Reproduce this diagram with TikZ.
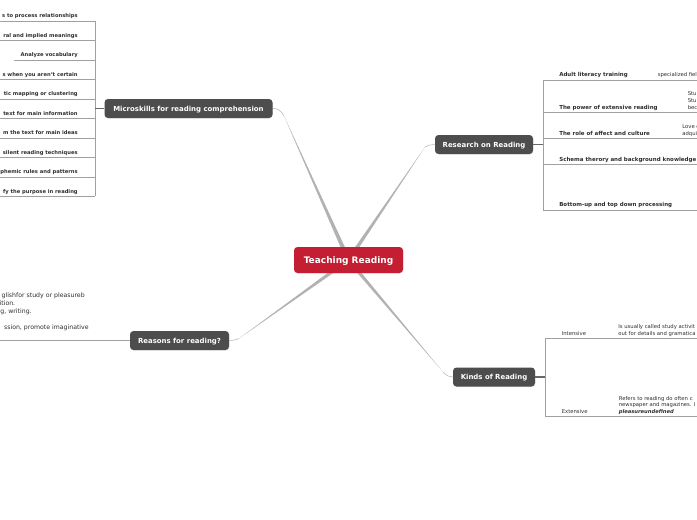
\documentclass[tikz,border=0pt]{standalone}
\usepackage{fontspec}
\setmainfont{DejaVu Sans}
\usepackage{xcolor}
\usetikzlibrary{positioning,calc,backgrounds,shadows}

\definecolor{rootred}{HTML}{C41E33}
\definecolor{boxgray}{HTML}{4D4D4D}
\definecolor{rulegray}{HTML}{A0A0A0}
\definecolor{inkgray}{HTML}{2E2E2E}

\begin{document}
\begin{tikzpicture}[x=1pt,y=-1pt,semithick]

\tikzstyle{every topic}=[rectangle, rounded corners=3.5pt, fill=boxgray, text=white, draw=none,
minimum height=19pt, inner sep=0pt, text height=5.7pt, text depth=0pt,
font=\bfseries\fontsize{6.95}{8}\selectfont,
drop shadow={opacity=0.18,shadow xshift=0.4pt,shadow yshift=-0.6pt}]
\tikzstyle{root}=[every topic, fill=rootred, minimum height=26pt, minimum width=109pt,
text height=7.6pt, font=\bfseries\fontsize{9}{11}\selectfont]
\tikzstyle{topic}=[every topic]
\tikzstyle{skill}=[inner sep=0pt, text=inkgray, font=\bfseries\fontsize{5.5}{6.5}\selectfont]
\tikzstyle{microskill}=[skill, font=\bfseries\fontsize{5.2}{6.5}\selectfont]
\tikzstyle{note}=[inner sep=0pt, text=inkgray, font=\fontsize{5.3}{6.5}\selectfont]
\tikzstyle{reason}=[inner sep=0pt, text=inkgray, font=\fontsize{6.2}{8}\selectfont]
\tikzstyle{rule}=[draw=rulegray, line width=0.7pt]
\tikzstyle{hub}=[draw=boxgray!85, line width=1.2pt]
\tikzstyle{branch}=[draw=gray!55, line width=0.6pt]
\tikzstyle{taper}=[fill=gray!60, draw=none]

\useasboundingbox (0,0) rectangle (697,520);

%main topics
\node[root] (teach) at (348.5,260) {Teaching Reading};

\node[topic,minimum width=168pt] (micro) at (188.5,108.5) {Microskills for reading comprehension};
\node[topic,minimum width=98pt] (research) at (484,144.5) {Research on Reading};
\node[topic,minimum width=82pt] (kinds) at (494,377) {Kinds of Reading};
\node[topic,minimum width=99pt] (reasons) at (179.5,340.5) {Reasons for reading?};

%bends of the branches
\coordinate (bmicro) at (284,116);
\coordinate (bresearch) at (425,147);
\coordinate (bkinds) at (443,372);
\coordinate (breasons) at (239,338.5);

\begin{scope}[on background layer]
\fill[taper] ($(teach)+(-2.4,0)$) -- (bmicro) -- ($(teach)+(2.4,0)$) -- cycle;
\fill[taper] ($(teach)+(-2.4,0)$) -- (bresearch) -- ($(teach)+(2.4,0)$) -- cycle;
\fill[taper] ($(teach)+(-2.4,0)$) -- (bkinds) -- ($(teach)+(2.4,0)$) -- cycle;
\fill[taper] ($(teach)+(0,-2.4)$) -- (breasons) -- ($(teach)+(0,2.4)$) -- cycle;
\draw[branch] (bmicro) .. controls (280,109) and (277,108.5) .. (micro.east);
\draw[branch] (bresearch) .. controls (429,145) and (431,144.5) .. (research.west);
\draw[branch] (bkinds) .. controls (447,376) and (449,377) .. (kinds.west);
\draw[branch] (breasons) .. controls (236,340) and (233,340.5) .. (reasons.east);
\end{scope}

%microskills
\node[microskill,anchor=base east] (m1) at (78,17) {s to process relationships};
\node[microskill,anchor=base east] (m2) at (78,37) {ral and implied meanings};
\node[microskill,anchor=base east] (m3) at (78,56) {Analyze vocabulary};
\node[microskill,anchor=base east] (m4) at (78,76) {s when you aren't certain};
\node[microskill,anchor=base east] (m5) at (78,95) {tic mapping or clustering};
\node[microskill,anchor=base east] (m6) at (78,115) {text for main information};
\node[microskill,anchor=base east] (m7) at (78,134) {m the text for main ideas};
\node[microskill,anchor=base east] (m8) at (78,154) {silent reading techniques};
\node[microskill,anchor=base east] (m9) at (78,173) {phemic rules and patterns};
\node[microskill,anchor=base east] (m10) at (78,193) {fy the purpose in reading};

\coordinate (ml1) at (0,21);
\coordinate (mr1) at (95,21);
\coordinate (ml2) at (0,40.5);
\coordinate (mr2) at (95,40.5);
\coordinate (ml3) at (14,60);
\coordinate (mr3) at (95,60);
\coordinate (ml4) at (0,79.5);
\coordinate (mr4) at (95,79.5);
\coordinate (ml5) at (0,99);
\coordinate (mr5) at (95,99);
\coordinate (ml6) at (0,118.5);
\coordinate (mr6) at (95,118.5);
\coordinate (ml7) at (0,138);
\coordinate (mr7) at (95,138);
\coordinate (ml8) at (0,157.5);
\coordinate (mr8) at (95,157.5);
\coordinate (ml9) at (0,177);
\coordinate (mr9) at (95,177);
\coordinate (ml10) at (0,196);
\coordinate (mr10) at (95,196);

\draw[rule] (ml1) -- (mr1);
\draw[rule] (ml2) -- (mr2);
\draw[rule] (ml3) -- (mr3);
\draw[rule] (ml4) -- (mr4);
\draw[rule] (ml5) -- (mr5);
\draw[rule] (ml6) -- (mr6);
\draw[rule] (ml7) -- (mr7);
\draw[rule] (ml8) -- (mr8);
\draw[rule] (ml9) -- (mr9);
\draw[rule] (ml10) -- (mr10);
\draw[rule] (mr1) -- (mr10);
\draw[hub] (micro.west) -- (micro.west -| mr1);

%research
\node[skill,anchor=base west] (r1) at (559,76) {Adult literacy training};
\node[note,anchor=base west] (r1a) at (657.5,76) {specialized fiel};
\node[skill,anchor=base west] (r2) at (559,109) {The power of extensive reading};
\node[note,anchor=base west] (r2a) at (687.5,95) {Stu};
\node[note,anchor=base west] (r2b) at (687.5,102) {Stu};
\node[note,anchor=base west] (r2c) at (687.5,109) {bec};
\node[skill,anchor=base west] (r3) at (559,135) {The role of affect and culture};
\node[note,anchor=base west] (r3a) at (682,128) {Love o};
\node[note,anchor=base west] (r3b) at (682,135) {adqui};
\node[skill,anchor=base west] (r4) at (559,161) {Schema therory and background knowledge};
\node[skill,anchor=base west] (r5) at (559,206) {Bottom-up and top down processing};

\coordinate (rl1) at (543,80);
\coordinate (rr1) at (697,80);
\coordinate (rl2) at (543,112);
\coordinate (rr2) at (697,112);
\coordinate (rl3) at (543,138);
\coordinate (rr3) at (697,138);
\coordinate (rl4) at (543,164);
\coordinate (rr4) at (697,164);
\coordinate (rl5) at (543,210);
\coordinate (rr5) at (697,210);

\draw[rule] (rl1) -- (rr1);
\draw[rule] (rl2) -- (rr2);
\draw[rule] (rl3) -- (rr3);
\draw[rule] (rl4) -- (rr4);
\draw[rule] (rl5) -- (rr5);
\draw[rule] (rl1) -- (rl5);
\draw[hub] (research.east) -- (research.east -| rl1);

%kinds
\node[note,anchor=base west] (k1) at (561.5,335) {Intensive};
\node[note,anchor=base west] (k1a) at (618,328) {Is usually called study activit};
\node[note,anchor=base west] (k1b) at (618,335) {out for details and gramatica};
\node[note,anchor=base west] (k2) at (561.5,413) {Extensive};
\node[note,anchor=base west] (k2a) at (618.5,400) {Refers to reading do often c};
\node[note,anchor=base west] (k2b) at (618.5,406.5) {newspaper and magazines. I};
\node[note,anchor=base west,font=\bfseries\itshape\fontsize{5.2}{6.5}\selectfont] (k2c) at (618.5,413) {pleasureundefined};

\coordinate (kl1) at (545,338);
\coordinate (kr1) at (697,338);
\coordinate (kl2) at (545,416.5);
\coordinate (kr2) at (697,416.5);

\draw[rule] (kl1) -- (kr1);
\draw[rule] (kl2) -- (kr2);
\draw[rule] (kl1) -- (kl2);
\draw[hub] (kinds.east) -- (kinds.east -| kl1);

%reasons
\node[reason,anchor=base east] (w1) at (85,297) {glishfor study or pleasureb};
\node[reason,anchor=base east] (w2) at (15.5,305) {ition.};
\node[reason,anchor=base east] (w3) at (32,313) {g, writing.};
\node[reason,anchor=base east] (w4) at (89,329) {ssion, promote imaginative};

\coordinate (wl) at (0,340.5);
\draw[rule] (reasons.west) -- (wl);

\end{tikzpicture}
\end{document}
